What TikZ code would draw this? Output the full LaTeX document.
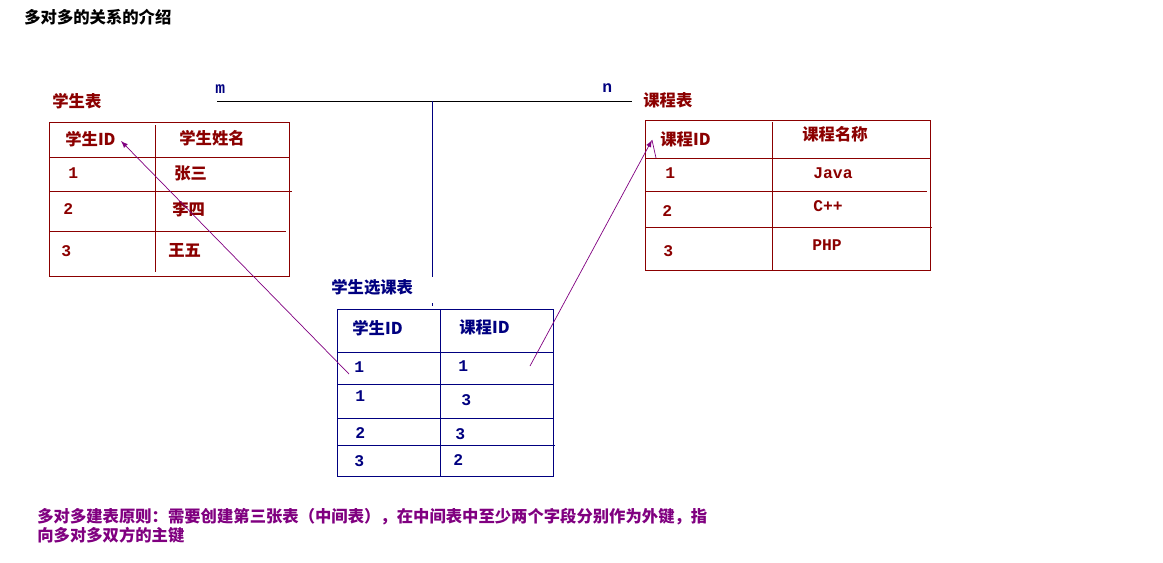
\documentclass[tikz,border=0pt]{standalone}
\usepackage{fontspec}
\setmainfont{Noto Sans CJK SC}
\setmonofont{Liberation Mono}
\usetikzlibrary{positioning}
\definecolor{dred}{HTML}{8B0000}
\definecolor{navy}{HTML}{000080}
\definecolor{purp}{HTML}{800080}
\tikzset{
    >=latex,
    txt/.style={anchor=west, inner sep=0pt, font=\fontsize{9.3}{11}\selectfont\bfseries},
    red/.style={txt, text=dred},
    blu/.style={txt, text=navy},
    rline/.style={draw=dred, line width=0.5pt},
    bline/.style={draw=navy, line width=0.5pt},
    pil/.style={->, draw=purp, line width=0.4pt}
}
\begin{document}
\begin{tikzpicture}[x=0.02cm, y=-0.02cm]
    \useasboundingbox (0,0) rectangle (1163,562);
    \node[txt] (title) at (24,17) {多对多的关系的介绍};

    % student table
    \node[red] (stab) at (52,101) {学生表};
    \draw[rline] (49,122) rectangle (289,276);
    \draw[rline] (155,125) -- (155,272);
    \draw[rline] (49,157) -- (289,157);
    \draw[rline] (49,191) -- (292,191);
    \draw[rline] (49,231) -- (286,231);
    \node[red] (sid) at (65,139) {学生ID};
    \node[red] (sname) at (179,138) {学生姓名};
    \node[red] (s1) at (68,173) {\ttfamily 1};
    \node[red] (n1) at (174,173) {张三};
    \node[red] (s2) at (63,209) {\ttfamily 2};
    \node[red] (n2) at (172,209) {李四};
    \node[red] (s3) at (61,251) {\ttfamily 3};
    \node[red] (n3) at (168,250) {王五};

    % relation lines
    \node[blu] (m) at (215,89) {\ttfamily m};
    \node[blu] (n) at (602,88) {\ttfamily n};
    \coordinate (ml) at (217,101);
    \coordinate (mr) at (632,101);
    \coordinate (mt) at (432,101);
    \coordinate (mb) at (432,277);
    \draw[line width=0.5pt] (ml) -- (mr);
    \draw[bline] (mt) -- (mb);
    \draw[bline] (432,303) -- (432,306);

    % course table
    \node[red] (ctab) at (643,100) {课程表};
    \draw[rline] (645,120) rectangle (930,270);
    \draw[rline] (772,122) -- (772,270);
    \draw[rline] (645,158) -- (930,158);
    \draw[rline] (645,191) -- (927,191);
    \draw[rline] (645,227) -- (932,227);
    \node[red] (cid) at (660,139) {课程ID};
    \node[red] (cname) at (802,134) {课程名称};
    \node[red] (c1) at (665,173) {\ttfamily 1};
    \node[red] (k1) at (813,173) {\ttfamily Java};
    \node[red] (c2) at (662,211) {\ttfamily 2};
    \node[red] (k2) at (813,206) {\ttfamily C++};
    \node[red] (c3) at (663,251) {\ttfamily 3};
    \node[red] (k3) at (812,245) {\ttfamily PHP};

    % link table
    \node[blu] (ltab) at (331,287) {学生选课表};
    \draw[bline] (337,309) rectangle (553,476);
    \draw[bline] (440,309) -- (440,476);
    \draw[bline] (337,352) -- (553,352);
    \draw[bline] (337,384) -- (553,384);
    \draw[bline] (337,418) -- (553,418);
    \draw[bline] (337,445) -- (555,445);
    \node[blu] (lsid) at (352,328) {学生ID};
    \node[blu] (lcid) at (459,327) {课程ID};
    \node[blu] (a1) at (354,367) {\ttfamily 1};
    \node[blu] (b1) at (458,366) {\ttfamily 1};
    \node[blu] (a2) at (355,396) {\ttfamily 1};
    \node[blu] (b2) at (461,400) {\ttfamily 3};
    \node[blu] (a3) at (355,433) {\ttfamily 2};
    \node[blu] (b3) at (455,434) {\ttfamily 3};
    \node[blu] (a4) at (354,461) {\ttfamily 3};
    \node[blu] (b4) at (453,460) {\ttfamily 2};

    % foreign keys
    \coordinate (fa) at (349,374);
    \coordinate (fb) at (530,366);
    \draw[pil] (fa) -- (121,141);
    \draw[pil] (fb) -- (652,140);
    \draw[draw=purp, line width=0.4pt] (652,140) -- (656,158);

    % note
    \node[txt, text=purp, align=left, anchor=north west] (note) at (37,508)
        {多对多建表原则：需要创建第三张表（中间表），在中间表中至少两个字段分别作为外键，指\\向多对多双方的主键};
\end{tikzpicture}
\end{document}
